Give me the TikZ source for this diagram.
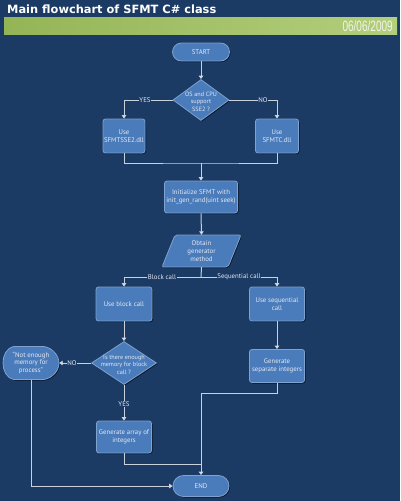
\documentclass[tikz,border=0pt]{standalone}
\usepackage{fontspec}
\setmainfont{DejaVu Sans}
\newfontfamily\boxfont{PT Sans}
\newfontfamily\datefont{Liberation Sans}
\usetikzlibrary{shapes.geometric,arrows.meta,shadows}
\definecolor{bg}{HTML}{1B3A64}
\definecolor{boxfill}{HTML}{4A7BBA}
\definecolor{boxedge}{HTML}{7FA2CF}
\definecolor{wire}{HTML}{C9D2DC}
\definecolor{txt}{HTML}{E4EAF4}
\definecolor{barL}{HTML}{94B556}
\definecolor{barR}{HTML}{B3CE7C}
\definecolor{datecol}{HTML}{F0F5E6}
\tikzset{
  boxshadow/.style={drop shadow={shadow xshift=1pt,shadow yshift=-1pt,opacity=0.6,fill=black}},
  boxtext/.style={font=\boxfont\fontsize{6.8}{7.8}\selectfont, text=txt, align=center},
  diatext/.style={font=\boxfont\fontsize{6.2}{7.4}\selectfont, text=txt, align=center},
  shapepaint/.style={draw=boxedge, line width=0.8pt, fill=boxfill, boxshadow},
  flowbox/.style={shapepaint, rounded corners=2.5pt, boxtext, inner sep=1pt},
  termbox/.style={flowbox, rounded corners=#1},
  diabox/.style={diamond, shapepaint, inner sep=0pt},
  wirestyle/.style={draw=wire, line width=1pt},
  arrowwire/.style={wirestyle, -{Triangle[width=4.5pt,length=3.5pt,fill=white]}},
  lbl/.style={fill=bg, inner sep=0.8pt, font=\boxfont\fontsize{6.8}{7.5}\selectfont, text=txt}
}
\begin{document}
\begin{tikzpicture}[x=1pt,y=-1pt]
\fill[bg] (0,0) rectangle (400,501);
\useasboundingbox (0,0) rectangle (400,501);
% header
\node[anchor=base west, font=\bfseries\fontsize{11.4}{13}\selectfont, text=white, inner sep=0] (title) at (7,13.5) {Main flowchart of SFMT C\# class};
\shade[left color=barL, right color=barR] (4,17) rectangle (397,34);
\node[anchor=east, font=\datefont\fontsize{15}{16}\selectfont, text=datecol, inner sep=0] (date) at (393,26) {\scalebox{0.67}[1]{06/06/2009}};
% nodes
\node[termbox=9pt, minimum width=57pt, minimum height=18pt] (start) at (201,52) {START};
\node[diabox, minimum width=56pt, minimum height=41pt] (d1) at (201,100) {};
\node[diatext] at ([yshift=-1.5pt]d1.center) {OS and CPU\\support\\SSE2 ?};
\node[flowbox, minimum width=42pt, minimum height=34pt] (sse) at (124,136) {Use\\SFMTSSE2.dll};
\node[flowbox, minimum width=43pt, minimum height=34pt] (sfc) at (277,136) {Use\\SFMTC.dll};
\node[flowbox, minimum width=73pt, minimum height=32pt] (init) at (201,197) {Initialize SFMT with\\init\_gen\_rand(uint seek)};
\path[shapepaint, rounded corners=2pt] (175,235) -- (241,235) -- (228,267) -- (162,267) -- cycle;
\node[boxtext, minimum width=66pt, minimum height=32pt, inner sep=0pt] (obt) at (201.5,251) {Obtain\\generator\\method};
\node[flowbox, minimum width=56pt, minimum height=34pt] (blk) at (124,304) {Use block call};
\node[flowbox, minimum width=55pt, minimum height=34pt] (seq) at (277,304) {Use sequential\\call};
\node[diabox, minimum width=65pt, minimum height=43pt] (d2) at (124,363) {};
\node[diatext] at ([yshift=-1.5pt]d2.center) {Is there enough\\memory for block\\call ?};
\path[shapepaint]
  (14,346.5) -- (44,346.5) .. controls (53,348) and (59,356) .. (59,363)
  .. controls (59,370) and (53,378) .. (44,379.5) -- (14,379.5)
  .. controls (6,378) and (3,370) .. (3,363) .. controls (3,356) and (6,348) .. (14,346.5) -- cycle;
\node[boxtext, minimum width=56pt, minimum height=33pt, inner sep=0pt] (nem) at (31,363) {“Not enough\\memory for\\process”};
\node[flowbox, minimum width=55pt, minimum height=33pt] (gsep) at (277,366) {Generate\\separate integers};
\node[flowbox, minimum width=55pt, minimum height=32pt] (garr) at (124,437) {Generate array of\\integers};
\node[termbox=10.5pt, minimum width=56pt, minimum height=21pt] (end) at (201,486) {END};
% junction coordinates
\coordinate (j1) at (201,163);
\coordinate (j2) at (201,277);
\coordinate (j3) at (201,393);
\coordinate (j4) at (201,464);
% connectors
\draw[arrowwire] (start.south) -- (d1.north);
\draw[arrowwire] (d1.west) -| (sse.north);
\draw[arrowwire] (d1.east) -| (sfc.north);
\draw[wirestyle] (sse.south) |- (j1) -| (sfc.south);
\draw[arrowwire] (j1) -- (init.north);
\draw[arrowwire] (init.south) -- (obt.north);
\draw[wirestyle] (obt.south) -- (j2);
\draw[arrowwire] (j2) -| (blk.north);
\draw[arrowwire] (j2) -| (seq.north);
\draw[arrowwire] (blk.south) -- (d2.north);
\draw[arrowwire] (d2.west) -- (nem.east);
\draw[arrowwire] (d2.south) -- (garr.north);
\draw[arrowwire] (seq.south) -- (gsep.north);
\draw[wirestyle] (gsep.south) |- (j3);
\draw[arrowwire] (j3) -- (end.north);
\draw[wirestyle] (garr.south) |- (j4);
\draw[arrowwire] (nem.south) |- (end.west);
% labels
\node[lbl] at (145,100) {YES};
\node[lbl] at (263,100) {NO};
\node[lbl] at (162,277) {Block call};
\node[lbl] at (239,277) {Sequential call};
\node[lbl] at (72,363) {NO};
\node[lbl] at (124,404) {YES};
\end{tikzpicture}
\end{document}
